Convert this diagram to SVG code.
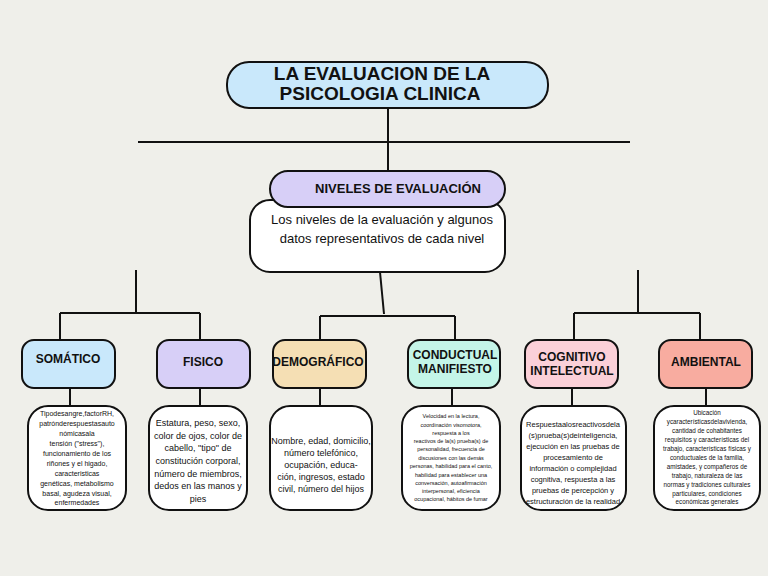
<svg xmlns="http://www.w3.org/2000/svg" width="768" height="576" viewBox="0 0 768 576">
<style>
.b{stroke:#111;stroke-width:2}
.t{font-family:"Liberation Sans",Arial,sans-serif;fill:#111;text-anchor:middle}
.h{font-weight:bold;font-size:12px}
.s{font-size:7px}
.m{font-size:9px}
line{stroke:#111;stroke-width:2}
</style>
<rect width="768" height="576" fill="#efefea"/>
<g id="connectors">
<line x1="388" y1="108" x2="388" y2="142"/>
<line x1="138" y1="142" x2="630" y2="142"/>
<line x1="388" y1="142" x2="388" y2="171"/>
<line x1="380" y1="272" x2="384" y2="314"/>
<line x1="320" y1="316" x2="455" y2="316"/>
<line x1="320" y1="316" x2="320" y2="340"/>
<line x1="455" y1="316" x2="455" y2="340"/>
<line x1="136" y1="270" x2="136" y2="313"/>
<line x1="60" y1="313" x2="200" y2="313"/>
<line x1="60" y1="313" x2="60" y2="340"/>
<line x1="200" y1="313" x2="200" y2="340"/>
<line x1="638" y1="270" x2="638" y2="313"/>
<line x1="574" y1="313" x2="700" y2="313"/>
<line x1="574" y1="313" x2="574" y2="340"/>
<line x1="700" y1="313" x2="700" y2="340"/>
<line x1="70" y1="388" x2="70" y2="406"/>
<line x1="200" y1="388" x2="200" y2="406"/>
<line x1="320" y1="388" x2="320" y2="406"/>
<line x1="452" y1="388" x2="452" y2="406"/>
<line x1="572" y1="388" x2="572" y2="406"/>
<line x1="706" y1="388" x2="706" y2="406"/>
</g>
<g id="title"><rect class="b" x="227" y="62" width="321" height="46" rx="22" fill="#c9e8fb"/>
<text class="t" x="382" y="80" font-size="19" font-weight="bold">LA EVALUACION DE LA</text>
<text class="t" x="380" y="100" font-size="19" font-weight="bold">PSICOLOGIA CLINICA</text></g>
<g id="desc"><rect class="b" x="250" y="200" width="255" height="72" rx="20" fill="#fff"/>
<text class="t" x="382" y="224" font-size="13">Los niveles de la evaluación y algunos</text>
<text class="t" x="382" y="243" font-size="13">datos representativos de cada nivel</text></g>
<g id="niveles"><rect class="b" x="270" y="171" width="235" height="36" rx="18" fill="#d7cff7"/>
<text class="t" x="398" y="193" font-size="13" font-weight="bold">NIVELES DE EVALUACIÓN</text></g>
<g id="somatico"><rect class="b" x="22" y="340" width="93" height="48" rx="12" fill="#c9e8fb"/><text class="t h" x="68" y="363">SOMÁTICO</text></g>
<g id="fisico"><rect class="b" x="157" y="340" width="93" height="48" rx="12" fill="#d7cff7"/><text class="t h" x="203" y="366">FISICO</text></g>
<g id="demografico"><rect class="b" x="273" y="340" width="93" height="48" rx="12" fill="#f5dfb4"/><text class="t h" x="318" y="366">DEMOGRÁFICO</text></g>
<g id="conductual"><rect class="b" x="408" y="340" width="92" height="48" rx="12" fill="#c4f5e8"/><text class="t h" x="455" y="359">CONDUCTUAL</text><text class="t h" x="455" y="373">MANIFIESTO</text></g>
<g id="cognitivo"><rect class="b" x="525" y="340" width="93" height="48" rx="12" fill="#fbd0d8"/><text class="t h" x="572" y="361">COGNITIVO</text><text class="t h" x="572" y="375">INTELECTUAL</text></g>
<g id="ambiental"><rect class="b" x="659" y="340" width="93" height="48" rx="12" fill="#f8aca0"/><text class="t h" x="706" y="366">AMBIENTAL</text></g>
<g id="d1"><rect class="b" x="28" y="406" width="98" height="104" rx="20" fill="#fff"/>
<text class="t s" x="77" y="416">Tipodesangre,factorRH,</text><text class="t s" x="77" y="426">patrónderespuestasauto</text><text class="t s" x="77" y="436">nómicasala</text><text class="t s" x="77" y="446">tensión ("stress"),</text><text class="t s" x="77" y="456">funcionamiento de los</text><text class="t s" x="77" y="466">riñones y el higado,</text><text class="t s" x="77" y="476">caracteristicas</text><text class="t s" x="77" y="486">genéticas, metabolismo</text><text class="t s" x="77" y="496">basal, agudeza visual,</text><text class="t s" x="77" y="505">enfermedades</text></g>
<g id="d2"><rect class="b" x="149" y="406" width="98" height="104" rx="20" fill="#fff"/>
<text class="t m" x="198" y="426">Estatura, peso, sexo,</text><text class="t m" x="198" y="439">color de ojos, color de</text><text class="t m" x="198" y="451">cabello, "tipo" de</text><text class="t m" x="198" y="464">constitución corporal,</text><text class="t m" x="198" y="477">número de miembros,</text><text class="t m" x="198" y="489">dedos en las manos y</text><text class="t m" x="198" y="502">pies</text></g>
<g id="d3"><rect class="b" x="270" y="406" width="102" height="104" rx="20" fill="#fff"/>
<text class="t m" x="321" y="444">Nombre, edad, domicilio,</text><text class="t m" x="321" y="456">número telefónico,</text><text class="t m" x="321" y="468">ocupación, educa-</text><text class="t m" x="321" y="480">ción, ingresos, estado</text><text class="t m" x="321" y="492">civil, número del hijos</text></g>
<g id="d4"><rect class="b" x="402" y="406" width="98" height="104" rx="20" fill="#fff"/>
<g class="t" font-size="5.5"><text x="451" y="418">Velocidad en la lectura,</text><text x="451" y="427">coordinación visomotora,</text><text x="451" y="435">respuesta a los</text><text x="451" y="443">reactivos de la(s) prueba(s) de</text><text x="451" y="451">personalidad, frecuencia de</text><text x="451" y="460">discusiones con las demás</text><text x="451" y="468">personas, habilidad para el canto,</text><text x="451" y="477">habilidad para establecer una</text><text x="451" y="485">conversación, autoafirmación</text><text x="451" y="493">interpersonal, eficiencia</text><text x="451" y="501">ocupacional, hábitos de fumar</text></g></g>
<g id="d5"><rect class="b" x="521" y="406" width="105" height="104" rx="20" fill="#fff"/>
<g class="t" font-size="7.5"><text x="573" y="427">Respuestaalosreactivosdela</text><text x="573" y="438">(s)prueba(s)deinteligencia,</text><text x="573" y="449">ejecución en las pruebas de</text><text x="573" y="460">procesamiento de</text><text x="573" y="471">información o complejidad</text><text x="573" y="482">cognitiva, respuesta a las</text><text x="573" y="493">pruebas de percepción y</text><text x="573" y="504">estructuración de la realidad</text></g></g>
<g id="d6"><rect class="b" x="654" y="406" width="106" height="104" rx="20" fill="#fff"/>
<g class="t" font-size="6.3"><text x="707" y="415">Ubicación</text><text x="707" y="424">ycaracterísticasdelavivienda,</text><text x="707" y="433">cantidad de cohabitantes</text><text x="707" y="442">requisitos y características del</text><text x="707" y="451">trabajo, características físicas y</text><text x="707" y="460">conductuales de la familia,</text><text x="707" y="469">amistades, y compañeros de</text><text x="707" y="478">trabajo, naturaleza de las</text><text x="707" y="487">normas y tradiciones culturales</text><text x="707" y="496">particulares, condiciones</text><text x="707" y="504">económicas generales</text></g></g>
</svg>
